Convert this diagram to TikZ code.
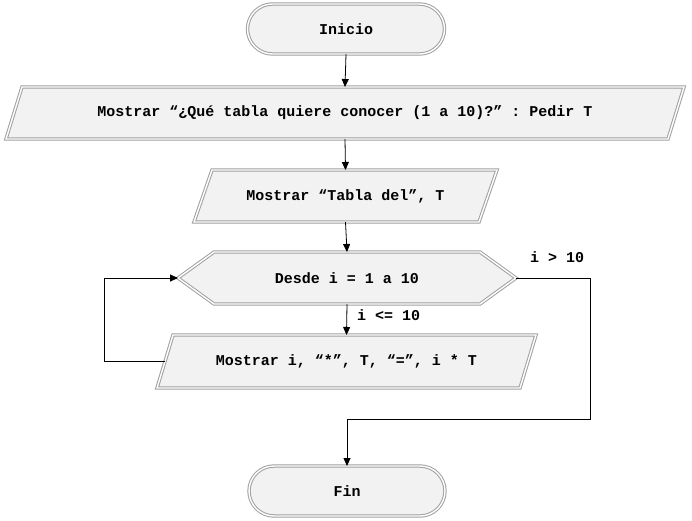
\documentclass[tikz,border=0pt]{standalone}
\usepackage{fontspec}
\setmonofont{Liberation Mono}
\usetikzlibrary{arrows.meta}
\pgfdeclarelayer{background}
\pgfsetlayers{background,main}
\definecolor{boxfill}{HTML}{F2F2F2}
\definecolor{boxline}{HTML}{A0A0A0}
\begin{document}
\begin{tikzpicture}[x=1pt,y=-1pt,
  txt/.style={font=\ttfamily\bfseries\fontsize{15}{18}\selectfont},
  holder/.style={txt,inner sep=0pt,outer sep=0pt,minimum width=#1},
  shapeline/.style={draw=boxline,line width=1pt,double=white,double distance=1.4pt,fill=boxfill},
  arr/.style={draw=black,line width=0.8pt,-{Triangle[length=8pt,width=7pt]}},
  lbl/.style={txt,inner sep=0pt}]
\useasboundingbox (0,0) rectangle (692,520);
% nodes
\node[holder=197,minimum height=50] (ini) at (346,29) {Inicio};
\node[holder=678,minimum height=52] (p1) at (345,113) {Mostrar “¿Qué tabla quiere conocer (1 a 10)?” : Pedir T};
\node[holder=303,minimum height=52] (p2) at (345.5,196) {Mostrar “Tabla del”, T};
\node[holder=338,minimum height=52] (hex) at (347,278) {Desde i = 1 a 10};
\node[holder=379,minimum height=53] (p3) at (346.5,361.5) {Mostrar i, “*”, T, “=”, i * T};
\node[holder=196,minimum height=50] (fin) at (347,491) {Fin};
% shapes
\begin{pgfonlayer}{background}
\draw[shapeline] ([xshift=-25]ini.north east) -- ([xshift=25]ini.north west)
  arc[start angle=-90,end angle=-270,radius=25] -- ([xshift=-25]ini.south east)
  arc[start angle=90,end angle=-90,radius=25] -- cycle;
\draw[shapeline] ([xshift=-25]fin.north east) -- ([xshift=25]fin.north west)
  arc[start angle=-90,end angle=-270,radius=25] -- ([xshift=-25]fin.south east)
  arc[start angle=90,end angle=-90,radius=25] -- cycle;
\draw[shapeline] ([xshift=16]p1.north west) -- (p1.north east) -- ([xshift=-16]p1.south east) -- (p1.south west) -- cycle;
\draw[shapeline] ([xshift=18]p2.north west) -- (p2.north east) -- ([xshift=-18]p2.south east) -- (p2.south west) -- cycle;
\draw[shapeline] ([xshift=16]p3.north west) -- (p3.north east) -- ([xshift=-16]p3.south east) -- (p3.south west) -- cycle;
\draw[shapeline] (hex.west) -- ([xshift=36]hex.north west) -- ([xshift=-36]hex.north east) -- (hex.east)
  -- ([xshift=-36]hex.south east) -- ([xshift=36]hex.south west) -- cycle;
\end{pgfonlayer}
% connectors
\coordinate (loopx) at (104,0);
\coordinate (rx) at (590,419);
\draw[arr] (ini.south) -- (p1.north);
\draw[arr] (p1.south) -- (p2.north);
\draw[arr] (p2.south) -- (hex.north);
\draw[arr] (hex.south) -- (p3.north);
\draw[arr] ([xshift=8]p3.west) -- (p3.west -| loopx) |- (hex.west);
\draw[arr] (hex.east) -| (rx) -| (fin.north);
% labels
\node[lbl,anchor=west] (lle) at (357,315) {i <= 10};
\node[lbl] (lgt) at (557,257) {i > 10};
\end{tikzpicture}
\end{document}
